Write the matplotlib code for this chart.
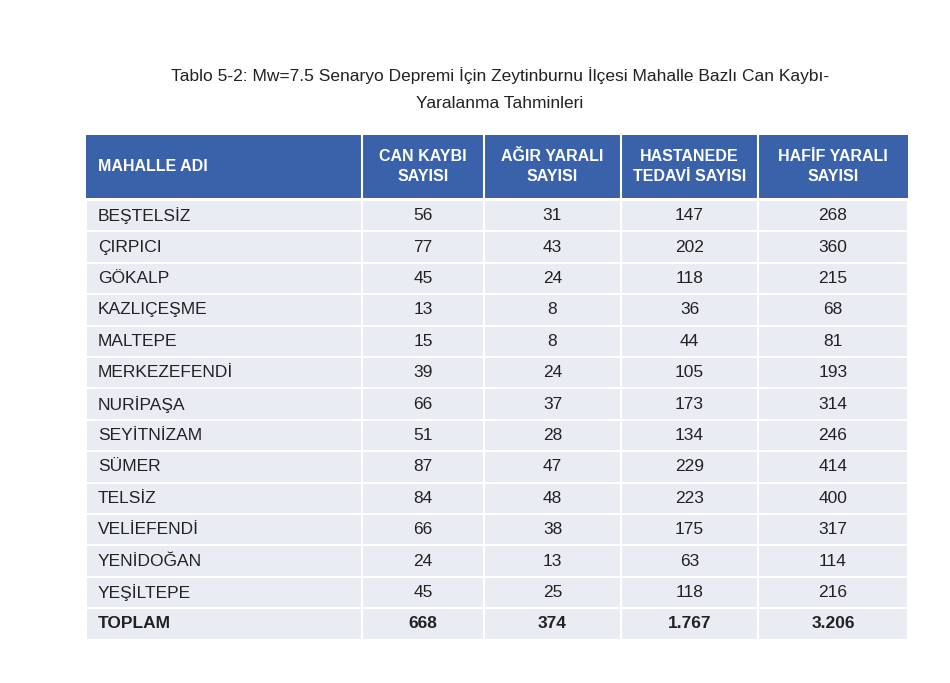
import matplotlib
matplotlib.use("Agg")
import matplotlib.pyplot as plt
from matplotlib.patches import Rectangle

title_lines = ["Tablo 5-2: Mw=7.5 Senaryo Depremi İçin Zeytinburnu İlçesi Mahalle Bazlı Can Kaybı-",
               "Yaralanma Tahminleri"]
headers = ["MAHALLE ADI", "CAN KAYBI\nSAYISI", "AĞIR YARALI\nSAYISI", "HASTANEDE\nTEDAVİ SAYISI", "HAFİF YARALI\nSAYISI"]
mahalle = ["BEŞTELSİZ", "ÇIRPICI", "GÖKALP", "KAZLIÇEŞME", "MALTEPE", "MERKEZEFENDİ", "NURİPAŞA",
           "SEYİTNİZAM", "SÜMER", "TELSİZ", "VELİEFENDİ", "YENİDOĞAN", "YEŞİLTEPE"]
can_kaybi = [56, 77, 45, 13, 15, 39, 66, 51, 87, 84, 66, 24, 45]
agir_yarali = [31, 43, 24, 8, 8, 24, 37, 28, 47, 48, 38, 13, 25]
hastanede = [147, 202, 118, 36, 44, 105, 173, 134, 229, 223, 175, 63, 118]
hafif_yarali = [268, 360, 215, 68, 81, 193, 314, 246, 414, 400, 317, 114, 216]
toplam = ["TOPLAM", "668", "374", "1.767", "3.206"]

W, H = 950, 683
fig = plt.figure(figsize=(W/100, H/100), dpi=100)
ax = fig.add_axes([0, 0, 1, 1])
ax.set_xlim(0, W); ax.set_ylim(H, 0); ax.axis("off")

font = "Liberation Sans"
for i, t in enumerate(title_lines):
    ax.text(500, 76 + i*28, t, ha="center", va="center", fontsize=12.5, family=font, color="#222222")

col_x = [86, 362, 484, 621, 758, 908]
hy0, hy1 = 135, 198
ax.add_patch(Rectangle((col_x[0], hy0), col_x[-1]-col_x[0], hy1-hy0, color="#3a62ab", lw=0))
for j, h in enumerate(headers):
    if j == 0:
        ax.text(98, (hy0+hy1)/2, h, ha="left", va="center", fontsize=11.5, family=font,
                color="white", fontweight="bold")
    else:
        ax.text((col_x[j]+col_x[j+1])/2, (hy0+hy1)/2, h, ha="center", va="center", fontsize=11.5,
                family=font, color="white", fontweight="bold", linespacing=1.35)
for xv in col_x[1:-1]:
    ax.plot([xv, xv], [hy0, hy1], color="white", lw=1.5)

rows = [[m, str(a), str(b), str(c), str(d)] for m, a, b, c, d in
        zip(mahalle, can_kaybi, agir_yarali, hastanede, hafif_yarali)] + [toplam]
ry0, rh = 200, 31.4
for i, r in enumerate(rows):
    y = ry0 + i*rh
    for j in range(5):
        ax.add_patch(Rectangle((col_x[j]+1, y+1), col_x[j+1]-col_x[j]-2, rh-2, color="#e9edf3", lw=0))
    bold = (i == len(rows)-1)
    for j, v in enumerate(r):
        if j == 0:
            ax.text(98, y+rh/2, v, ha="left", va="center", fontsize=12.5, family=font, color="#222222",
                    fontweight="bold" if bold else "normal")
        else:
            ax.text((col_x[j]+col_x[j+1])/2, y+rh/2, v, ha="center", va="center", fontsize=12.5,
                    family=font, color="#222222", fontweight="bold" if bold else "normal")

fig.savefig("out.png", dpi=100, facecolor="white")
